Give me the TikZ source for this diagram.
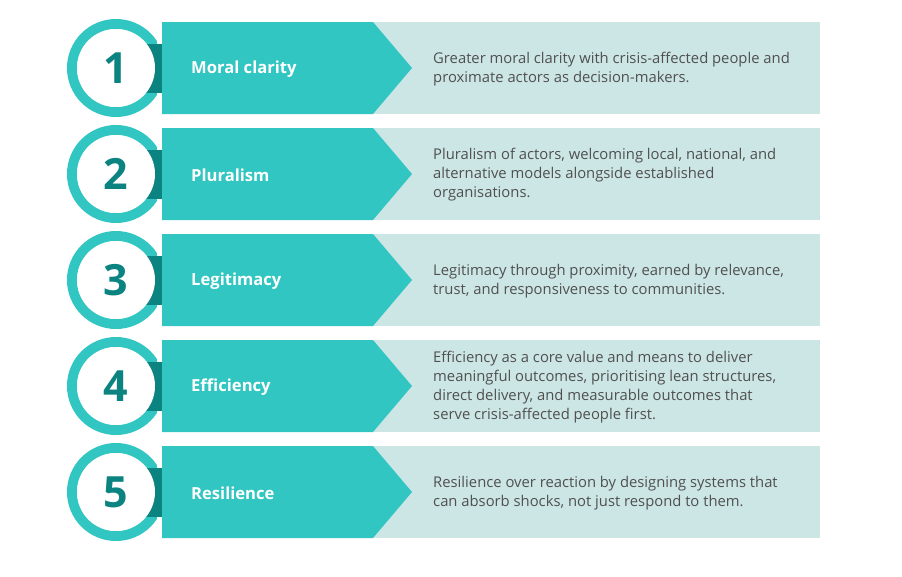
\documentclass[tikz,border=0pt]{standalone}
\usepackage{fontspec}
\setmainfont{Open Sans}
\definecolor{ringteal}{HTML}{31C6C1}
\definecolor{darkteal}{HTML}{0B8380}
\definecolor{paleteal}{HTML}{CCE6E5}
\definecolor{bodygray}{HTML}{505050}
\tikzset{
  ring/.style={draw=ringteal,line width=10pt},
  numtxt/.style={font=\bfseries\fontsize{43}{43}\selectfont,text=darkteal,inner sep=0pt},
  ttltxt/.style={font=\bfseries\fontsize{16.6}{19}\selectfont,text=white,anchor=west,inner sep=0pt},
  desctxt/.style={font=\fontsize{14.8}{19}\selectfont,text=bodygray,anchor=west,align=left,inner sep=0pt},
}

\begin{document}
\begin{tikzpicture}[x=1pt,y=-1pt]
  \useasboundingbox (0,0) rectangle (902,576);
  \foreach \n/\ttl/\txt in {
      1/{Moral clarity}/{Greater moral clarity with crisis-affected people and\\proximate actors as decision-makers.},
      2/{Pluralism}/{Pluralism of actors, welcoming local, national, and\\alternative models alongside established\\organisations.},
      3/{Legitimacy}/{Legitimacy through proximity, earned by relevance,\\trust, and responsiveness to communities.},
      4/{Efficiency}/{Efficiency as a core value and means to deliver\\meaningful outcomes, prioritising lean structures,\\direct delivery, and measurable outcomes that\\serve crisis-affected people first.},
      5/{Resilience}/{Resilience over reaction by designing systems that\\can absorb shocks, not just respond to them.}}{
    \pgfmathsetmacro\cy{68+106*(\n-1)}
    % number ring
    \draw[ring] (116,\cy) circle[radius=44];
    \fill[white] (157,\cy-52) rectangle (163,\cy+52);
    \fill[darkteal] (146,\cy-24.5) rectangle (163,\cy+24.5);
    \fill[white] (116,\cy) circle[radius=39];
    \node[numtxt] (num\n) at (116,\cy) {\n};
    % description box and chevron
    \fill[paleteal] (340,\cy-46) rectangle (820,\cy+46);
    \fill[ringteal] (162,\cy-46) -- (373,\cy-46) -- (412,\cy) -- (373,\cy+46) -- (162,\cy+46) -- cycle;
    \node[ttltxt] (ttl\n) at (191,\cy+1.5) {\ttl};
    \node[desctxt] (desc\n) at (433,\cy+1) {\txt};
  }
\end{tikzpicture}
\end{document}
